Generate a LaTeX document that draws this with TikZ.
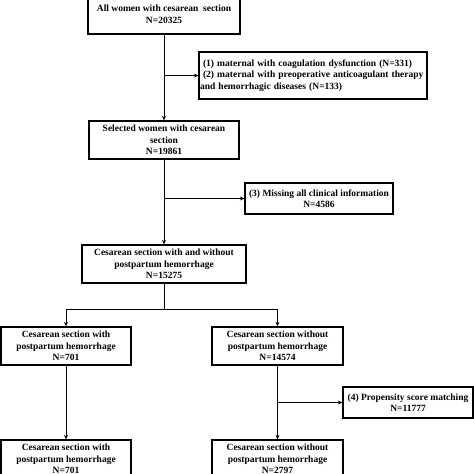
\documentclass[tikz,border=0pt]{standalone}
\usepackage{fontspec}
\setmainfont{Liberation Serif}
\usetikzlibrary{arrows.meta}
\begin{document}
\begin{tikzpicture}[x=1pt,y=-1pt,
  box/.style={draw, line width=1.3pt, rectangle, inner sep=0pt, align=center,
    font=\fontsize{9.5}{11.6}\selectfont\bfseries},
  arr/.style={line width=1pt, -{Stealth[length=4.5pt,width=4pt]}}]
\useasboundingbox (0,0) rectangle (474,474);
\node[box, minimum width=152, minimum height=39] (b1) at (164,14.5)
  {All women with cesarean\ \ section\\N=20325};
\node[box, minimum width=228, minimum height=47, text width=226, align=left] (b2) at (313,75.5)
  {\hspace*{3pt}(1) maternal with coagulation dysfunction (N=331)\\
   \hspace*{3pt}(2) maternal with preoperative anticoagulant therapy\\
   and hemorrhagic diseases (N=133)};
\node[box, minimum width=150, minimum height=38] (b3) at (164,140)
  {Selected women with cesarean\\section\\N=19861};
\node[box, minimum width=148, minimum height=31] (b4) at (319,198.5)
  {(3) Missing all clinical information\\N=4586};
\node[box, minimum width=164, minimum height=38] (b5) at (164,264)
  {Cesarean section with and without\\postpartum hemorrhage\\N=15275};
\node[box, minimum width=130, minimum height=38] (b6) at (66,346)
  {Cesarean section with\\postpartum hemorrhage\\N=701};
\node[box, minimum width=131, minimum height=38] (b7) at (277.5,346)
  {Cesarean section without\\postpartum hemorrhage\\N=14574};
\node[box, minimum width=130, minimum height=31] (b10) at (408,402.5)
  {(4) Propensity score matching\\N=11777};
\node[box, minimum width=130, minimum height=38] (b8) at (66,459)
  {Cesarean section with\\postpartum hemorrhage\\N=701};
\node[box, minimum width=131, minimum height=38] (b9) at (277.5,459)
  {Cesarean section without\\postpartum hemorrhage\\N=2797};
\coordinate (split) at (164,309);
\draw[arr] (b1.south) -- (b3.north);
\draw[arr] (b1.south |- b2.west) -- (b2.west);
\draw[arr] (b3.south) -- (b5.north);
\draw[arr] (b3.south |- b4.west) -- (b4.west);
\draw[line width=1pt] (b5.south) -- (split);
\draw[arr] (split) -| (b6.north);
\draw[arr] (split) -| (b7.north);
\draw[arr] (b6.south) -- (b8.north);
\draw[arr] (b7.south) -- (b9.north);
\draw[arr] (b7.south |- b10.west) -- (b10.west);
\end{tikzpicture}
\end{document}
